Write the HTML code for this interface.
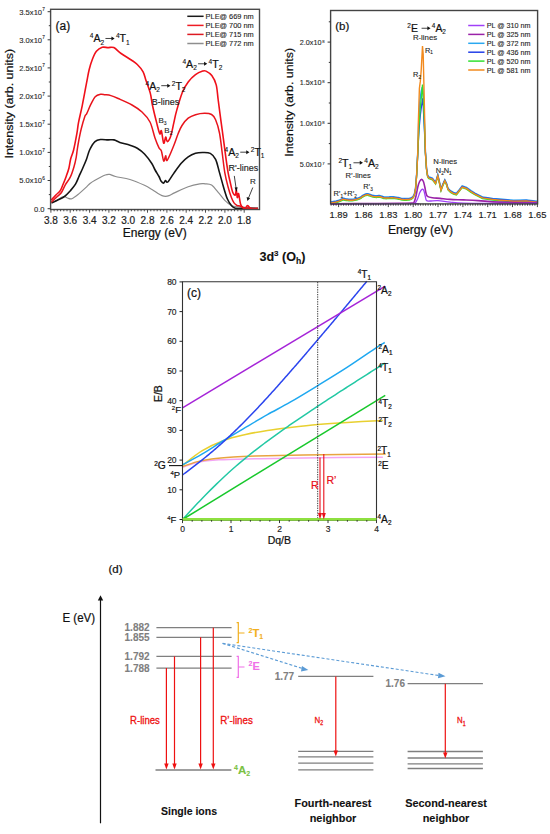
<!DOCTYPE html>
<html><head><meta charset="utf-8"><style>
html,body{margin:0;padding:0;background:#fff;}
svg{display:block;font-family:"Liberation Sans", sans-serif;}
</style></head><body>
<svg width="550" height="834" viewBox="0 0 550 834">
<rect width="550" height="834" fill="#fff"/>
<g id="pa"><path d="M51.50,202.40 C52.47,202.03 55.62,201.05 57.30,200.20 C58.98,199.35 60.40,197.92 61.60,197.30 C62.80,196.68 63.52,196.38 64.50,196.50 C65.48,196.62 66.28,197.63 67.50,198.00 C68.72,198.37 69.87,199.43 71.80,198.70 C73.73,197.97 76.67,195.53 79.10,193.60 C81.53,191.67 84.58,188.78 86.40,187.10 C88.22,185.42 88.57,184.65 90.00,183.50 C91.43,182.35 92.45,181.62 95.00,180.20 C97.55,178.78 102.87,175.97 105.30,175.00 C107.73,174.03 107.90,174.15 109.60,174.40 C111.30,174.65 112.10,175.65 115.50,176.50 C118.90,177.35 125.17,178.03 130.00,179.50 C134.83,180.97 140.83,183.63 144.50,185.30 C148.17,186.97 149.75,188.13 152.00,189.50 C154.25,190.87 156.33,192.48 158.00,193.50 C159.67,194.52 160.75,195.13 162.00,195.60 C163.25,196.07 164.33,196.30 165.50,196.30 C166.67,196.30 167.42,196.22 169.00,195.60 C170.58,194.98 171.80,194.08 175.00,192.60 C178.20,191.12 184.07,188.17 188.20,186.70 C192.33,185.23 197.00,184.28 199.80,183.80 C202.60,183.32 203.03,183.58 205.00,183.80 C206.97,184.02 209.40,183.68 211.60,185.10 C213.80,186.52 216.00,189.77 218.20,192.30 C220.40,194.83 222.60,198.10 224.80,200.30 C227.00,202.50 229.20,204.40 231.40,205.50 C233.60,206.60 235.23,206.57 238.00,206.90 C240.77,207.23 244.67,207.32 248.00,207.50 C251.33,207.68 256.33,207.92 258.00,208.00" fill="none" stroke="#8c8c8c" stroke-width="1.2"/><path d="M51.50,203.10 C52.47,202.62 55.13,201.30 57.30,200.20 C59.47,199.10 62.32,198.08 64.50,196.50 C66.68,194.92 68.57,192.75 70.40,190.70 C72.23,188.65 74.05,186.62 75.50,184.20 C76.95,181.78 77.90,178.87 79.10,176.20 C80.30,173.53 81.48,170.98 82.70,168.20 C83.92,165.42 85.25,162.53 86.40,159.50 C87.55,156.47 88.17,152.98 89.60,150.00 C91.03,147.02 93.10,143.35 95.00,141.60 C96.90,139.85 98.83,139.78 101.00,139.50 C103.17,139.22 105.83,139.83 108.00,139.90 C110.17,139.97 112.03,139.48 114.00,139.90 C115.97,140.32 117.13,141.50 119.80,142.40 C122.47,143.30 127.08,144.33 130.00,145.30 C132.92,146.27 134.88,146.75 137.30,148.20 C139.72,149.65 142.08,151.45 144.50,154.00 C146.92,156.55 150.03,160.83 151.80,163.50 C153.57,166.17 153.90,167.83 155.10,170.00 C156.30,172.17 158.02,174.67 159.00,176.50 C159.98,178.33 160.25,179.90 161.00,181.00 C161.75,182.10 162.75,183.18 163.50,183.10 C164.25,183.02 164.78,180.68 165.50,180.50 C166.22,180.32 166.45,183.15 167.80,182.00 C169.15,180.85 171.40,176.68 173.60,173.60 C175.80,170.52 178.57,166.28 181.00,163.50 C183.43,160.72 185.78,158.60 188.20,156.90 C190.62,155.20 193.08,154.03 195.50,153.30 C197.92,152.57 200.23,152.48 202.70,152.50 C205.17,152.52 208.15,152.25 210.30,153.40 C212.45,154.55 214.07,156.20 215.60,159.40 C217.13,162.60 218.18,168.00 219.50,172.60 C220.82,177.20 222.18,182.60 223.50,187.00 C224.82,191.40 226.08,195.92 227.40,199.00 C228.72,202.08 230.08,203.97 231.40,205.50 C232.72,207.03 233.03,207.68 235.30,208.20 C237.57,208.72 241.22,208.53 245.00,208.60 C248.78,208.67 255.83,208.60 258.00,208.60" fill="none" stroke="#151515" stroke-width="1.6"/><path d="M51.10,202.40 C52.13,201.42 55.55,198.20 57.30,196.50 C59.05,194.80 60.27,194.13 61.60,192.20 C62.93,190.27 63.83,187.45 65.30,184.90 C66.77,182.35 68.95,179.93 70.40,176.90 C71.85,173.87 73.03,169.97 74.00,166.70 C74.97,163.43 75.67,160.08 76.20,157.30 C76.73,154.52 76.80,152.63 77.20,150.00 C77.60,147.37 77.93,145.00 78.60,141.50 C79.27,138.00 80.13,133.23 81.20,129.00 C82.27,124.77 84.10,118.62 85.00,116.10 C85.90,113.58 85.62,115.88 86.60,113.90 C87.58,111.92 89.47,107.07 90.90,104.20 C92.33,101.33 93.58,98.35 95.20,96.70 C96.82,95.05 98.97,94.63 100.60,94.30 C102.23,93.97 103.28,94.48 105.00,94.70 C106.72,94.92 108.70,94.97 110.90,95.60 C113.10,96.23 114.68,96.93 118.20,98.50 C121.72,100.07 128.03,102.75 132.00,105.00 C135.97,107.25 139.00,109.17 142.00,112.00 C145.00,114.83 147.83,117.67 150.00,122.00 C152.17,126.33 153.50,133.68 155.00,138.00 C156.50,142.32 157.93,145.73 159.00,147.90 C160.07,150.07 160.62,148.80 161.40,151.00 C162.18,153.20 162.98,160.32 163.70,161.10 C164.42,161.88 165.12,155.83 165.70,155.70 C166.28,155.57 165.85,162.00 167.20,160.30 C168.55,158.60 172.00,149.88 173.80,145.50 C175.60,141.12 176.63,137.33 178.00,134.00 C179.37,130.67 180.30,128.13 182.00,125.50 C183.70,122.87 185.95,120.00 188.20,118.20 C190.45,116.40 192.78,115.52 195.50,114.70 C198.22,113.88 201.82,113.33 204.50,113.30 C207.18,113.27 209.75,113.42 211.60,114.50 C213.45,115.58 214.28,116.72 215.60,119.80 C216.92,122.88 218.40,127.50 219.50,133.00 C220.60,138.50 221.32,146.20 222.20,152.80 C223.08,159.40 223.82,166.90 224.80,172.60 C225.78,178.30 227.00,182.83 228.10,187.00 C229.20,191.17 230.42,194.95 231.40,197.60 C232.38,200.25 233.07,201.58 234.00,202.90 C234.93,204.22 236.00,204.98 237.00,205.50 C238.00,206.02 238.67,205.58 240.00,206.00 C241.33,206.42 242.00,207.58 245.00,208.00 C248.00,208.42 255.83,208.42 258.00,208.50" fill="none" stroke="#e8141c" stroke-width="1.5"/><path d="M51.10,200.20 C51.88,199.35 54.28,196.68 55.80,195.10 C57.32,193.52 58.98,192.52 60.20,190.70 C61.42,188.88 62.13,186.50 63.10,184.20 C64.07,181.90 65.03,179.57 66.00,176.90 C66.97,174.23 68.12,171.23 68.90,168.20 C69.68,165.17 69.92,161.73 70.70,158.70 C71.48,155.67 72.57,154.22 73.60,150.00 C74.63,145.78 76.08,137.97 76.90,133.40 C77.72,128.83 77.60,127.28 78.50,122.60 C79.40,117.92 80.95,111.95 82.30,105.30 C83.65,98.65 85.45,88.67 86.60,82.70 C87.75,76.73 88.22,73.45 89.20,69.50 C90.18,65.55 91.30,62.03 92.50,59.00 C93.70,55.97 94.78,53.25 96.40,51.30 C98.02,49.35 100.27,47.92 102.20,47.30 C104.13,46.68 106.07,47.55 108.00,47.60 C109.93,47.65 111.62,46.62 113.80,47.60 C115.98,48.58 118.18,51.43 121.10,53.50 C124.02,55.57 128.60,58.17 131.30,60.00 C134.00,61.83 135.33,62.53 137.30,64.50 C139.27,66.47 141.65,69.13 143.10,71.80 C144.55,74.47 144.78,76.87 146.00,80.50 C147.22,84.13 149.33,89.52 150.40,93.60 C151.47,97.68 151.35,100.12 152.40,105.00 C153.45,109.88 155.47,118.10 156.70,122.90 C157.93,127.70 159.02,132.50 159.80,133.80 C160.58,135.10 160.75,129.13 161.40,130.70 C162.05,132.27 162.98,142.15 163.70,143.20 C164.42,144.25 165.12,137.27 165.70,137.00 C166.28,136.73 166.37,141.73 167.20,141.60 C168.03,141.47 169.60,139.32 170.70,136.20 C171.80,133.08 172.83,127.08 173.80,122.90 C174.77,118.72 175.07,116.22 176.50,111.10 C177.93,105.98 180.45,97.05 182.40,92.20 C184.35,87.35 186.02,84.92 188.20,82.00 C190.38,79.08 193.08,76.52 195.50,74.70 C197.92,72.88 200.95,71.70 202.70,71.10 C204.45,70.50 204.48,70.37 206.00,71.10 C207.52,71.83 210.10,73.20 211.80,75.50 C213.50,77.80 215.13,80.82 216.20,84.90 C217.27,88.98 217.43,94.18 218.20,100.00 C218.97,105.82 219.92,113.20 220.80,119.80 C221.68,126.40 222.62,133.00 223.50,139.60 C224.38,146.20 225.33,153.90 226.10,159.40 C226.87,164.90 227.43,168.87 228.10,172.60 C228.77,176.33 229.33,178.52 230.10,181.80 C230.87,185.08 231.83,190.10 232.70,192.30 C233.57,194.50 234.70,195.43 235.30,195.00 C235.90,194.57 235.97,189.27 236.30,189.70 C236.63,190.13 236.92,196.93 237.30,197.60 C237.68,198.27 238.05,192.60 238.60,193.70 C239.15,194.80 239.82,201.78 240.60,204.20 C241.38,206.62 242.52,207.48 243.30,208.20 C244.08,208.92 244.60,208.93 245.30,208.50 C246.00,208.07 246.53,205.60 247.50,205.60 C248.47,205.60 249.35,208.00 251.10,208.50 C252.85,209.00 256.85,208.58 258.00,208.60" fill="none" stroke="#f0101a" stroke-width="1.6"/><rect x="50.6" y="9.3" width="208.9" height="200.2" fill="none" stroke="#4a4a4a" stroke-width="1.4"/><line x1="47.6" y1="208.7" x2="50.6" y2="208.7" stroke="#3c3c3c" stroke-width="1"/><line x1="48.8" y1="194.6" x2="50.6" y2="194.6" stroke="#3c3c3c" stroke-width="1"/><line x1="47.6" y1="180.5" x2="50.6" y2="180.5" stroke="#3c3c3c" stroke-width="1"/><line x1="48.8" y1="166.5" x2="50.6" y2="166.5" stroke="#3c3c3c" stroke-width="1"/><line x1="47.6" y1="152.4" x2="50.6" y2="152.4" stroke="#3c3c3c" stroke-width="1"/><line x1="48.8" y1="138.3" x2="50.6" y2="138.3" stroke="#3c3c3c" stroke-width="1"/><line x1="47.6" y1="124.2" x2="50.6" y2="124.2" stroke="#3c3c3c" stroke-width="1"/><line x1="48.8" y1="110.2" x2="50.6" y2="110.2" stroke="#3c3c3c" stroke-width="1"/><line x1="47.6" y1="96.1" x2="50.6" y2="96.1" stroke="#3c3c3c" stroke-width="1"/><line x1="48.8" y1="82.0" x2="50.6" y2="82.0" stroke="#3c3c3c" stroke-width="1"/><line x1="47.6" y1="67.9" x2="50.6" y2="67.9" stroke="#3c3c3c" stroke-width="1"/><line x1="48.8" y1="53.9" x2="50.6" y2="53.9" stroke="#3c3c3c" stroke-width="1"/><line x1="47.6" y1="39.8" x2="50.6" y2="39.8" stroke="#3c3c3c" stroke-width="1"/><line x1="48.8" y1="25.7" x2="50.6" y2="25.7" stroke="#3c3c3c" stroke-width="1"/><line x1="47.6" y1="11.7" x2="50.6" y2="11.7" stroke="#3c3c3c" stroke-width="1"/><text x="44.6" y="211.6" font-size="7.6" text-anchor="end" fill="#2a2a2a" stroke="#2a2a2a" stroke-width="0.12">0.0</text><text x="42.1" y="183.4" font-size="7.6" text-anchor="end" fill="#2a2a2a" stroke="#2a2a2a" stroke-width="0.12">5.0x10</text><text x="42.3" y="179.9" font-size="4.8" fill="#2a2a2a" stroke="#2a2a2a" stroke-width="0.12">6</text><text x="42.1" y="155.3" font-size="7.6" text-anchor="end" fill="#2a2a2a" stroke="#2a2a2a" stroke-width="0.12">1.0x10</text><text x="42.3" y="151.8" font-size="4.8" fill="#2a2a2a" stroke="#2a2a2a" stroke-width="0.12">7</text><text x="42.1" y="127.2" font-size="7.6" text-anchor="end" fill="#2a2a2a" stroke="#2a2a2a" stroke-width="0.12">1.5x10</text><text x="42.3" y="123.7" font-size="4.8" fill="#2a2a2a" stroke="#2a2a2a" stroke-width="0.12">7</text><text x="42.1" y="99.0" font-size="7.6" text-anchor="end" fill="#2a2a2a" stroke="#2a2a2a" stroke-width="0.12">2.0x10</text><text x="42.3" y="95.5" font-size="4.8" fill="#2a2a2a" stroke="#2a2a2a" stroke-width="0.12">7</text><text x="42.1" y="70.8" font-size="7.6" text-anchor="end" fill="#2a2a2a" stroke="#2a2a2a" stroke-width="0.12">2.5x10</text><text x="42.3" y="67.3" font-size="4.8" fill="#2a2a2a" stroke="#2a2a2a" stroke-width="0.12">7</text><text x="42.1" y="42.7" font-size="7.6" text-anchor="end" fill="#2a2a2a" stroke="#2a2a2a" stroke-width="0.12">3.0x10</text><text x="42.3" y="39.2" font-size="4.8" fill="#2a2a2a" stroke="#2a2a2a" stroke-width="0.12">7</text><text x="42.1" y="14.6" font-size="7.6" text-anchor="end" fill="#2a2a2a" stroke="#2a2a2a" stroke-width="0.12">3.5x10</text><text x="42.3" y="11.1" font-size="4.8" fill="#2a2a2a" stroke="#2a2a2a" stroke-width="0.12">7</text><line x1="50.9" y1="209.5" x2="50.9" y2="212.7" stroke="#3c3c3c" stroke-width="0.9"/><line x1="54.1" y1="209.5" x2="54.1" y2="211.3" stroke="#3c3c3c" stroke-width="0.9"/><line x1="57.3" y1="209.5" x2="57.3" y2="211.3" stroke="#3c3c3c" stroke-width="0.9"/><line x1="60.6" y1="209.5" x2="60.6" y2="211.3" stroke="#3c3c3c" stroke-width="0.9"/><line x1="63.8" y1="209.5" x2="63.8" y2="211.3" stroke="#3c3c3c" stroke-width="0.9"/><line x1="67.0" y1="209.5" x2="67.0" y2="211.3" stroke="#3c3c3c" stroke-width="0.9"/><line x1="70.2" y1="209.5" x2="70.2" y2="212.7" stroke="#3c3c3c" stroke-width="0.9"/><line x1="73.5" y1="209.5" x2="73.5" y2="211.3" stroke="#3c3c3c" stroke-width="0.9"/><line x1="76.7" y1="209.5" x2="76.7" y2="211.3" stroke="#3c3c3c" stroke-width="0.9"/><line x1="79.9" y1="209.5" x2="79.9" y2="211.3" stroke="#3c3c3c" stroke-width="0.9"/><line x1="83.1" y1="209.5" x2="83.1" y2="211.3" stroke="#3c3c3c" stroke-width="0.9"/><line x1="86.3" y1="209.5" x2="86.3" y2="211.3" stroke="#3c3c3c" stroke-width="0.9"/><line x1="89.6" y1="209.5" x2="89.6" y2="212.7" stroke="#3c3c3c" stroke-width="0.9"/><line x1="92.8" y1="209.5" x2="92.8" y2="211.3" stroke="#3c3c3c" stroke-width="0.9"/><line x1="96.0" y1="209.5" x2="96.0" y2="211.3" stroke="#3c3c3c" stroke-width="0.9"/><line x1="99.2" y1="209.5" x2="99.2" y2="211.3" stroke="#3c3c3c" stroke-width="0.9"/><line x1="102.4" y1="209.5" x2="102.4" y2="211.3" stroke="#3c3c3c" stroke-width="0.9"/><line x1="105.7" y1="209.5" x2="105.7" y2="211.3" stroke="#3c3c3c" stroke-width="0.9"/><line x1="108.9" y1="209.5" x2="108.9" y2="212.7" stroke="#3c3c3c" stroke-width="0.9"/><line x1="112.1" y1="209.5" x2="112.1" y2="211.3" stroke="#3c3c3c" stroke-width="0.9"/><line x1="115.3" y1="209.5" x2="115.3" y2="211.3" stroke="#3c3c3c" stroke-width="0.9"/><line x1="118.6" y1="209.5" x2="118.6" y2="211.3" stroke="#3c3c3c" stroke-width="0.9"/><line x1="121.8" y1="209.5" x2="121.8" y2="211.3" stroke="#3c3c3c" stroke-width="0.9"/><line x1="125.0" y1="209.5" x2="125.0" y2="211.3" stroke="#3c3c3c" stroke-width="0.9"/><line x1="128.2" y1="209.5" x2="128.2" y2="212.7" stroke="#3c3c3c" stroke-width="0.9"/><line x1="131.4" y1="209.5" x2="131.4" y2="211.3" stroke="#3c3c3c" stroke-width="0.9"/><line x1="134.7" y1="209.5" x2="134.7" y2="211.3" stroke="#3c3c3c" stroke-width="0.9"/><line x1="137.9" y1="209.5" x2="137.9" y2="211.3" stroke="#3c3c3c" stroke-width="0.9"/><line x1="141.1" y1="209.5" x2="141.1" y2="211.3" stroke="#3c3c3c" stroke-width="0.9"/><line x1="144.3" y1="209.5" x2="144.3" y2="211.3" stroke="#3c3c3c" stroke-width="0.9"/><line x1="147.5" y1="209.5" x2="147.5" y2="212.7" stroke="#3c3c3c" stroke-width="0.9"/><line x1="150.8" y1="209.5" x2="150.8" y2="211.3" stroke="#3c3c3c" stroke-width="0.9"/><line x1="154.0" y1="209.5" x2="154.0" y2="211.3" stroke="#3c3c3c" stroke-width="0.9"/><line x1="157.2" y1="209.5" x2="157.2" y2="211.3" stroke="#3c3c3c" stroke-width="0.9"/><line x1="160.4" y1="209.5" x2="160.4" y2="211.3" stroke="#3c3c3c" stroke-width="0.9"/><line x1="163.7" y1="209.5" x2="163.7" y2="211.3" stroke="#3c3c3c" stroke-width="0.9"/><line x1="166.9" y1="209.5" x2="166.9" y2="212.7" stroke="#3c3c3c" stroke-width="0.9"/><line x1="170.1" y1="209.5" x2="170.1" y2="211.3" stroke="#3c3c3c" stroke-width="0.9"/><line x1="173.3" y1="209.5" x2="173.3" y2="211.3" stroke="#3c3c3c" stroke-width="0.9"/><line x1="176.5" y1="209.5" x2="176.5" y2="211.3" stroke="#3c3c3c" stroke-width="0.9"/><line x1="179.8" y1="209.5" x2="179.8" y2="211.3" stroke="#3c3c3c" stroke-width="0.9"/><line x1="183.0" y1="209.5" x2="183.0" y2="211.3" stroke="#3c3c3c" stroke-width="0.9"/><line x1="186.2" y1="209.5" x2="186.2" y2="212.7" stroke="#3c3c3c" stroke-width="0.9"/><line x1="189.4" y1="209.5" x2="189.4" y2="211.3" stroke="#3c3c3c" stroke-width="0.9"/><line x1="192.7" y1="209.5" x2="192.7" y2="211.3" stroke="#3c3c3c" stroke-width="0.9"/><line x1="195.9" y1="209.5" x2="195.9" y2="211.3" stroke="#3c3c3c" stroke-width="0.9"/><line x1="199.1" y1="209.5" x2="199.1" y2="211.3" stroke="#3c3c3c" stroke-width="0.9"/><line x1="202.3" y1="209.5" x2="202.3" y2="211.3" stroke="#3c3c3c" stroke-width="0.9"/><line x1="205.5" y1="209.5" x2="205.5" y2="212.7" stroke="#3c3c3c" stroke-width="0.9"/><line x1="208.8" y1="209.5" x2="208.8" y2="211.3" stroke="#3c3c3c" stroke-width="0.9"/><line x1="212.0" y1="209.5" x2="212.0" y2="211.3" stroke="#3c3c3c" stroke-width="0.9"/><line x1="215.2" y1="209.5" x2="215.2" y2="211.3" stroke="#3c3c3c" stroke-width="0.9"/><line x1="218.4" y1="209.5" x2="218.4" y2="211.3" stroke="#3c3c3c" stroke-width="0.9"/><line x1="221.6" y1="209.5" x2="221.6" y2="211.3" stroke="#3c3c3c" stroke-width="0.9"/><line x1="224.9" y1="209.5" x2="224.9" y2="212.7" stroke="#3c3c3c" stroke-width="0.9"/><line x1="228.1" y1="209.5" x2="228.1" y2="211.3" stroke="#3c3c3c" stroke-width="0.9"/><line x1="231.3" y1="209.5" x2="231.3" y2="211.3" stroke="#3c3c3c" stroke-width="0.9"/><line x1="234.5" y1="209.5" x2="234.5" y2="211.3" stroke="#3c3c3c" stroke-width="0.9"/><line x1="237.8" y1="209.5" x2="237.8" y2="211.3" stroke="#3c3c3c" stroke-width="0.9"/><line x1="241.0" y1="209.5" x2="241.0" y2="211.3" stroke="#3c3c3c" stroke-width="0.9"/><line x1="244.2" y1="209.5" x2="244.2" y2="212.7" stroke="#3c3c3c" stroke-width="0.9"/><text x="50.9" y="224.2" font-size="10" text-anchor="middle" fill="#1e1e1e" stroke="#1e1e1e" stroke-width="0.22">3.8</text><text x="70.2" y="224.2" font-size="10" text-anchor="middle" fill="#1e1e1e" stroke="#1e1e1e" stroke-width="0.22">3.6</text><text x="89.6" y="224.2" font-size="10" text-anchor="middle" fill="#1e1e1e" stroke="#1e1e1e" stroke-width="0.22">3.4</text><text x="108.9" y="224.2" font-size="10" text-anchor="middle" fill="#1e1e1e" stroke="#1e1e1e" stroke-width="0.22">3.2</text><text x="128.2" y="224.2" font-size="10" text-anchor="middle" fill="#1e1e1e" stroke="#1e1e1e" stroke-width="0.22">3.0</text><text x="147.5" y="224.2" font-size="10" text-anchor="middle" fill="#1e1e1e" stroke="#1e1e1e" stroke-width="0.22">2.8</text><text x="166.9" y="224.2" font-size="10" text-anchor="middle" fill="#1e1e1e" stroke="#1e1e1e" stroke-width="0.22">2.6</text><text x="186.2" y="224.2" font-size="10" text-anchor="middle" fill="#1e1e1e" stroke="#1e1e1e" stroke-width="0.22">2.4</text><text x="205.5" y="224.2" font-size="10" text-anchor="middle" fill="#1e1e1e" stroke="#1e1e1e" stroke-width="0.22">2.2</text><text x="224.9" y="224.2" font-size="10" text-anchor="middle" fill="#1e1e1e" stroke="#1e1e1e" stroke-width="0.22">2.0</text><text x="244.2" y="224.2" font-size="10" text-anchor="middle" fill="#1e1e1e" stroke="#1e1e1e" stroke-width="0.22">1.8</text><text x="154.8" y="236.5" font-size="12" text-anchor="middle" fill="#111" stroke="#111" stroke-width="0.22">Energy (eV)</text><text transform="translate(13.0,103.7) rotate(-90) scale(1,0.93)" font-size="12.5" text-anchor="middle" fill="#111" stroke="#111" stroke-width="0.22">Intensity (arb. units)</text><line x1="187.3" y1="16.3" x2="203.6" y2="16.3" stroke="#1a1a1a" stroke-width="1.5"/><text x="205.6" y="18.9" font-size="7.4" fill="#1e1e1e" stroke="#1e1e1e" stroke-width="0.12">PLE@ 669 nm</text><line x1="187.3" y1="25.4" x2="203.6" y2="25.4" stroke="#ee1c24" stroke-width="1.5"/><text x="205.6" y="28.0" font-size="7.4" fill="#1e1e1e" stroke="#1e1e1e" stroke-width="0.12">PLE@ 700 nm</text><line x1="187.3" y1="34.4" x2="203.6" y2="34.4" stroke="#dd1a22" stroke-width="1.5"/><text x="205.6" y="37.0" font-size="7.4" fill="#1e1e1e" stroke="#1e1e1e" stroke-width="0.12">PLE@ 715 nm</text><line x1="187.3" y1="43.5" x2="203.6" y2="43.5" stroke="#8e8e8e" stroke-width="1.5"/><text x="205.6" y="46.1" font-size="7.4" fill="#1e1e1e" stroke="#1e1e1e" stroke-width="0.12">PLE@ 772 nm</text><text x="55.5" y="30" font-size="12" fill="#111" stroke="#111" stroke-width="0.22">(a)</text><text x="89.80" y="38.48" font-size="6.57" fill="#111" stroke="#111" stroke-width="0.12">4</text><text x="93.46" y="42.30" font-size="10.60" fill="#111" stroke="#111" stroke-width="0.22">A</text><text x="100.53" y="44.63" font-size="6.57" fill="#111" stroke="#111" stroke-width="0.12">2</text><path d="M105.45,38.48 H113.15" stroke="#111" stroke-width="0.79"/><path d="M111.45,36.47 L114.65,38.48 L111.45,40.50 Z" fill="#111"/><text x="115.92" y="38.48" font-size="6.57" fill="#111" stroke="#111" stroke-width="0.12">4</text><text x="119.58" y="42.30" font-size="10.60" fill="#111" stroke="#111" stroke-width="0.22">T</text><text x="126.05" y="44.63" font-size="6.57" fill="#111" stroke="#111" stroke-width="0.12">1</text><text x="145.60" y="85.68" font-size="6.57" fill="#111" stroke="#111" stroke-width="0.12">4</text><text x="149.26" y="89.50" font-size="10.60" fill="#111" stroke="#111" stroke-width="0.22">A</text><text x="156.33" y="91.83" font-size="6.57" fill="#111" stroke="#111" stroke-width="0.12">2</text><path d="M161.25,85.68 H168.95" stroke="#111" stroke-width="0.79"/><path d="M167.25,83.67 L170.45,85.68 L167.25,87.70 Z" fill="#111"/><text x="171.72" y="85.68" font-size="6.57" fill="#111" stroke="#111" stroke-width="0.12">2</text><text x="175.38" y="89.50" font-size="10.60" fill="#111" stroke="#111" stroke-width="0.22">T</text><text x="181.85" y="91.83" font-size="6.57" fill="#111" stroke="#111" stroke-width="0.12">2</text><text x="182.40" y="63.78" font-size="6.57" fill="#111" stroke="#111" stroke-width="0.12">4</text><text x="186.06" y="67.60" font-size="10.60" fill="#111" stroke="#111" stroke-width="0.22">A</text><text x="193.13" y="69.93" font-size="6.57" fill="#111" stroke="#111" stroke-width="0.12">2</text><path d="M198.05,63.78 H205.75" stroke="#111" stroke-width="0.79"/><path d="M204.05,61.77 L207.25,63.78 L204.05,65.80 Z" fill="#111"/><text x="208.52" y="63.78" font-size="6.57" fill="#111" stroke="#111" stroke-width="0.12">4</text><text x="212.18" y="67.60" font-size="10.60" fill="#111" stroke="#111" stroke-width="0.22">T</text><text x="218.65" y="69.93" font-size="6.57" fill="#111" stroke="#111" stroke-width="0.12">2</text><text x="224.60" y="152.18" font-size="6.57" fill="#111" stroke="#111" stroke-width="0.12">4</text><text x="228.26" y="156.00" font-size="10.60" fill="#111" stroke="#111" stroke-width="0.22">A</text><text x="235.33" y="158.33" font-size="6.57" fill="#111" stroke="#111" stroke-width="0.12">2</text><path d="M240.25,152.18 H247.95" stroke="#111" stroke-width="0.79"/><path d="M246.25,150.17 L249.45,152.18 L246.25,154.20 Z" fill="#111"/><text x="250.72" y="152.18" font-size="6.57" fill="#111" stroke="#111" stroke-width="0.12">2</text><text x="254.38" y="156.00" font-size="10.60" fill="#111" stroke="#111" stroke-width="0.22">T</text><text x="260.85" y="158.33" font-size="6.57" fill="#111" stroke="#111" stroke-width="0.12">1</text><text x="151.8" y="104.8" font-size="9" fill="#1e1e1e" stroke="#1e1e1e" stroke-width="0.16">B-lines</text><text x="158.5" y="122.5" font-size="8" fill="#1e1e1e" stroke="#1e1e1e" stroke-width="0.12">B<tspan font-size="5" dy="2">3</tspan></text><text x="164.3" y="133.4" font-size="8" fill="#1e1e1e" stroke="#1e1e1e" stroke-width="0.12">B<tspan font-size="5" dy="2">2</tspan></text><text x="228.5" y="171" font-size="9" fill="#1e1e1e" stroke="#1e1e1e" stroke-width="0.16">R'-lines</text><text x="250" y="183.8" font-size="8" fill="#1e1e1e" stroke="#1e1e1e" stroke-width="0.12">R</text><line x1="234.3" y1="175.9" x2="236.2" y2="189" stroke="#111" stroke-width="0.8"/><path d="M234.6,187.5 L236.6,192 L237.6,187.2 Z" fill="#111"/><line x1="252.8" y1="187.5" x2="248.3" y2="198.5" stroke="#111" stroke-width="0.8"/><path d="M246.6,197 L247.4,201 L250.1,198.2 Z" fill="#111"/></g>
<g id="pb"><path d="M331.00,201.90 L331.54,201.81 L332.30,201.68 L333.19,201.53 L334.14,201.36 L335.07,201.18 L335.90,201.00 L336.64,200.81 L337.36,200.60 L338.06,200.38 L338.73,200.16 L339.38,199.93 L340.00,199.70 L340.59,199.45 L341.15,199.17 L341.69,198.89 L342.20,198.63 L342.71,198.42 L343.20,198.30 L343.64,198.27 L344.00,198.33 L344.35,198.44 L344.74,198.57 L345.24,198.70 L345.90,198.80 L346.74,198.90 L347.73,199.02 L348.82,199.14 L349.97,199.23 L351.14,199.26 L352.30,199.20 L353.50,199.03 L354.78,198.78 L356.08,198.46 L357.34,198.11 L358.50,197.75 L359.50,197.40 L360.29,197.05 L360.93,196.67 L361.46,196.28 L361.95,195.90 L362.44,195.53 L363.00,195.20 L363.63,194.89 L364.29,194.57 L364.95,194.28 L365.60,194.03 L366.23,193.83 L366.80,193.70 L367.31,193.66 L367.78,193.70 L368.21,193.79 L368.63,193.92 L369.06,194.06 L369.50,194.20 L369.95,194.34 L370.39,194.51 L370.84,194.69 L371.30,194.88 L371.78,195.05 L372.30,195.20 L372.87,195.33 L373.47,195.46 L374.11,195.57 L374.75,195.67 L375.38,195.75 L376.00,195.80 L376.57,195.79 L377.11,195.73 L377.64,195.65 L378.19,195.58 L378.80,195.55 L379.50,195.60 L380.28,195.76 L381.12,196.01 L382.01,196.30 L382.96,196.59 L383.96,196.84 L385.00,197.00 L386.13,197.05 L387.37,197.02 L388.66,196.95 L389.94,196.87 L391.17,196.81 L392.30,196.80 L393.31,196.85 L394.24,196.92 L395.13,197.02 L395.98,197.13 L396.83,197.26 L397.70,197.40 L398.59,197.57 L399.46,197.77 L400.34,197.99 L401.21,198.20 L402.10,198.38 L403.00,198.50 L403.95,198.56 L404.94,198.59 L405.95,198.57 L406.92,198.54 L407.82,198.48 L408.60,198.40 L409.25,198.30 L409.81,198.18 L410.29,198.04 L410.72,197.87 L411.12,197.69 L411.50,197.50 L411.86,197.31 L412.17,197.11 L412.44,196.90 L412.70,196.66 L412.95,196.36 L413.20,196.00 L413.46,195.58 L413.70,195.11 L413.94,194.60 L414.17,194.03 L414.39,193.40 L414.60,192.70 L414.79,192.01 L414.96,191.34 L415.12,190.62 L415.27,189.74 L415.43,188.63 L415.60,187.20 L415.79,185.20 L416.00,182.64 L416.21,179.86 L416.41,177.14 L416.58,174.82 L416.70,173.20 L417.80,151.60 L418.80,119.20 L419.90,100.60 L421.30,91.20 L422.30,87.20 L423.20,94.20 L424.30,119.20 L425.40,151.60 L426.50,167.80 L427.50,174.70 L428.50,176.80 L432.40,178.10 L435.60,182.40 L437.80,174.80 L439.30,181.20 L441.00,189.20 L442.80,184.20 L444.80,179.70 L446.50,183.20 L448.00,188.30 L450.50,190.70 L453.50,192.50 L456.40,193.30 L459.30,189.70 L462.20,186.00 L466.50,187.50 L471.00,190.70 L475.30,193.30 L482.50,196.90 L492.70,198.40 L500.00,199.10 L513.60,200.20 L526.40,199.90 L537.30,201.20" fill="none" stroke="#2a9ef0" stroke-width="1.5"/><path d="M331.00,202.50 L331.54,202.41 L332.30,202.28 L333.19,202.13 L334.14,201.96 L335.07,201.78 L335.90,201.60 L336.64,201.41 L337.36,201.20 L338.06,200.98 L338.73,200.76 L339.38,200.53 L340.00,200.30 L340.59,200.05 L341.15,199.77 L341.69,199.49 L342.20,199.23 L342.71,199.02 L343.20,198.90 L343.64,198.87 L344.00,198.93 L344.35,199.04 L344.74,199.17 L345.24,199.30 L345.90,199.40 L346.74,199.50 L347.73,199.62 L348.82,199.74 L349.97,199.83 L351.14,199.86 L352.30,199.80 L353.50,199.63 L354.78,199.38 L356.08,199.06 L357.34,198.71 L358.50,198.35 L359.50,198.00 L360.29,197.65 L360.93,197.27 L361.46,196.88 L361.95,196.50 L362.44,196.13 L363.00,195.80 L363.63,195.49 L364.29,195.17 L364.95,194.88 L365.60,194.63 L366.23,194.43 L366.80,194.30 L367.31,194.26 L367.78,194.30 L368.21,194.39 L368.63,194.52 L369.06,194.66 L369.50,194.80 L369.95,194.94 L370.39,195.11 L370.84,195.29 L371.30,195.48 L371.78,195.65 L372.30,195.80 L372.87,195.93 L373.47,196.06 L374.11,196.18 L374.75,196.27 L375.38,196.35 L376.00,196.40 L376.57,196.39 L377.11,196.33 L377.64,196.25 L378.19,196.18 L378.80,196.15 L379.50,196.20 L380.28,196.36 L381.12,196.61 L382.01,196.90 L382.96,197.19 L383.96,197.44 L385.00,197.60 L386.13,197.65 L387.37,197.62 L388.66,197.55 L389.94,197.47 L391.17,197.41 L392.30,197.40 L393.31,197.45 L394.24,197.52 L395.13,197.62 L395.98,197.73 L396.83,197.86 L397.70,198.00 L398.59,198.17 L399.46,198.37 L400.34,198.59 L401.21,198.80 L402.10,198.98 L403.00,199.10 L403.95,199.16 L404.94,199.19 L405.95,199.18 L406.92,199.14 L407.82,199.08 L408.60,199.00 L409.25,198.90 L409.81,198.78 L410.29,198.64 L410.72,198.47 L411.12,198.29 L411.50,198.10 L411.86,197.91 L412.17,197.71 L412.44,197.50 L412.70,197.26 L412.95,196.96 L413.20,196.60 L413.46,196.18 L413.70,195.71 L413.94,195.20 L414.17,194.63 L414.39,194.00 L414.60,193.30 L414.79,192.61 L414.96,191.94 L415.12,191.22 L415.27,190.34 L415.43,189.23 L415.60,187.80 L415.79,185.80 L416.00,183.24 L416.21,180.46 L416.41,177.74 L416.58,175.42 L416.70,173.80 L417.80,152.20 L419.00,129.80 L420.30,115.50 L421.50,105.80 L422.70,98.30 L423.30,107.80 L424.20,124.80 L425.40,152.20 L426.50,168.40 L427.50,175.30 L428.50,177.40 L432.40,178.70 L435.60,183.00 L437.80,175.40 L439.30,181.80 L441.00,189.80 L442.80,184.80 L444.80,180.30 L446.50,183.80 L448.00,188.90 L450.50,191.30 L453.50,193.10 L456.40,193.90 L459.30,190.30 L462.20,186.60 L466.50,188.10 L471.00,191.30 L475.30,193.90 L482.50,197.50 L492.70,199.00 L500.00,199.70 L513.60,200.80 L526.40,200.50 L537.30,201.80" fill="none" stroke="#2340e8" stroke-width="1.3"/><path d="M331.00,203.60 L331.54,203.51 L332.30,203.38 L333.19,203.23 L334.14,203.06 L335.07,202.88 L335.90,202.70 L336.64,202.51 L337.36,202.30 L338.06,202.08 L338.73,201.86 L339.38,201.63 L340.00,201.40 L340.59,201.15 L341.15,200.87 L341.69,200.59 L342.20,200.33 L342.71,200.12 L343.20,200.00 L343.64,199.97 L344.00,200.03 L344.35,200.14 L344.74,200.27 L345.24,200.40 L345.90,200.50 L346.74,200.60 L347.73,200.72 L348.82,200.84 L349.97,200.93 L351.14,200.96 L352.30,200.90 L353.50,200.73 L354.78,200.48 L356.08,200.16 L357.34,199.81 L358.50,199.45 L359.50,199.10 L360.29,198.75 L360.93,198.37 L361.46,197.98 L361.95,197.60 L362.44,197.23 L363.00,196.90 L363.63,196.59 L364.29,196.27 L364.95,195.98 L365.60,195.73 L366.23,195.53 L366.80,195.40 L367.31,195.36 L367.78,195.40 L368.21,195.49 L368.63,195.62 L369.06,195.76 L369.50,195.90 L369.95,196.04 L370.39,196.21 L370.84,196.39 L371.30,196.58 L371.78,196.75 L372.30,196.90 L372.87,197.03 L373.47,197.16 L374.11,197.28 L374.75,197.37 L375.38,197.45 L376.00,197.50 L376.57,197.49 L377.11,197.43 L377.64,197.35 L378.19,197.28 L378.80,197.25 L379.50,197.30 L380.28,197.46 L381.12,197.71 L382.01,198.00 L382.96,198.29 L383.96,198.54 L385.00,198.70 L386.13,198.75 L387.37,198.72 L388.66,198.65 L389.94,198.57 L391.17,198.51 L392.30,198.50 L393.31,198.55 L394.24,198.62 L395.13,198.72 L395.98,198.83 L396.83,198.96 L397.70,199.10 L398.59,199.27 L399.46,199.47 L400.34,199.69 L401.21,199.90 L402.10,200.08 L403.00,200.20 L403.95,200.26 L404.94,200.29 L405.95,200.28 L406.92,200.24 L407.82,200.18 L408.60,200.10 L409.25,200.00 L409.81,199.88 L410.29,199.74 L410.72,199.57 L411.12,199.39 L411.50,199.20 L411.86,199.01 L412.17,198.81 L412.44,198.60 L412.70,198.36 L412.95,198.06 L413.20,197.70 L413.46,197.28 L413.70,196.81 L413.94,196.30 L414.17,195.73 L414.39,195.10 L414.60,194.40 L414.79,193.71 L414.96,193.04 L415.12,192.32 L415.27,191.44 L415.43,190.33 L415.60,188.90 L415.79,186.90 L416.00,184.34 L416.21,181.56 L416.41,178.84 L416.58,176.52 L416.70,174.90 L417.80,153.30 L419.00,125.90 L420.30,108.00 L421.50,95.90 L422.50,84.50 L423.20,95.90 L424.30,120.90 L425.40,153.30 L426.50,169.50 L427.50,176.40 L428.50,178.50 L432.40,179.80 L435.60,184.10 L437.80,176.50 L439.30,182.90 L441.00,190.90 L442.80,185.90 L444.80,181.40 L446.50,184.90 L448.00,190.00 L450.50,192.40 L453.50,194.20 L456.40,195.00 L459.30,191.40 L462.20,187.70 L466.50,189.20 L471.00,192.40 L475.30,195.00 L482.50,198.60 L492.70,200.10 L500.00,200.80 L513.60,201.90 L526.40,201.60 L537.30,202.90" fill="none" stroke="#30e030" stroke-width="1.3"/><path d="M331.00,202.90 L331.54,202.81 L332.30,202.68 L333.19,202.53 L334.14,202.36 L335.07,202.18 L335.90,202.00 L336.64,201.81 L337.36,201.60 L338.06,201.38 L338.73,201.16 L339.38,200.93 L340.00,200.70 L340.59,200.45 L341.15,200.17 L341.69,199.89 L342.20,199.63 L342.71,199.42 L343.20,199.30 L343.64,199.27 L344.00,199.33 L344.35,199.44 L344.74,199.57 L345.24,199.70 L345.90,199.80 L346.74,199.90 L347.73,200.02 L348.82,200.14 L349.97,200.23 L351.14,200.26 L352.30,200.20 L353.50,200.03 L354.78,199.78 L356.08,199.46 L357.34,199.11 L358.50,198.75 L359.50,198.40 L360.29,198.05 L360.93,197.67 L361.46,197.28 L361.95,196.90 L362.44,196.53 L363.00,196.20 L363.63,195.89 L364.29,195.57 L364.95,195.28 L365.60,195.03 L366.23,194.83 L366.80,194.70 L367.31,194.66 L367.78,194.70 L368.21,194.79 L368.63,194.92 L369.06,195.06 L369.50,195.20 L369.95,195.34 L370.39,195.51 L370.84,195.69 L371.30,195.88 L371.78,196.05 L372.30,196.20 L372.87,196.33 L373.47,196.46 L374.11,196.57 L374.75,196.67 L375.38,196.75 L376.00,196.80 L376.57,196.79 L377.11,196.73 L377.64,196.65 L378.19,196.58 L378.80,196.55 L379.50,196.60 L380.28,196.76 L381.12,197.01 L382.01,197.30 L382.96,197.59 L383.96,197.84 L385.00,198.00 L386.13,198.05 L387.37,198.02 L388.66,197.95 L389.94,197.87 L391.17,197.81 L392.30,197.80 L393.31,197.85 L394.24,197.92 L395.13,198.02 L395.98,198.13 L396.83,198.26 L397.70,198.40 L398.59,198.57 L399.46,198.77 L400.34,198.99 L401.21,199.20 L402.10,199.38 L403.00,199.50 L403.95,199.56 L404.94,199.59 L405.95,199.57 L406.92,199.54 L407.82,199.48 L408.60,199.40 L409.25,199.30 L409.81,199.18 L410.29,199.04 L410.72,198.87 L411.12,198.69 L411.50,198.50 L411.86,198.31 L412.17,198.11 L412.44,197.90 L412.70,197.66 L412.95,197.36 L413.20,197.00 L413.46,196.58 L413.70,196.11 L413.94,195.60 L414.17,195.03 L414.39,194.40 L414.60,193.70 L414.79,193.01 L414.96,192.34 L415.12,191.62 L415.27,190.74 L415.43,189.63 L415.60,188.20 L415.79,186.20 L416.00,183.64 L416.21,180.86 L416.41,178.14 L416.58,175.82 L416.70,174.20 L417.80,152.60 L418.40,120.20 L419.40,88.20 L420.30,81.40 L421.20,70.20 L422.50,46.00 L423.20,54.60 L424.20,97.70 L424.70,120.20 L425.40,152.60 L426.50,168.80 L427.50,175.70 L428.50,177.80 L432.40,179.10 L435.60,183.40 L437.80,175.80 L439.30,182.20 L441.00,190.20 L442.80,185.20 L444.80,180.70 L446.50,184.20 L448.00,189.30 L450.50,191.70 L453.50,193.50 L456.40,194.30 L459.30,190.70 L462.20,187.00 L466.50,188.50 L471.00,191.70 L475.30,194.30 L482.50,197.90 L492.70,199.40 L500.00,200.10 L513.60,201.20 L526.40,200.90 L537.30,202.20" fill="none" stroke="#f28a1e" stroke-width="1.4"/><path d="M331.00,203.90 C335.83,203.85 348.50,203.70 360.00,203.60 C371.50,203.50 391.37,203.38 400.00,203.30 C408.63,203.22 409.47,203.27 411.80,203.10 C414.13,202.93 413.30,203.48 414.00,202.30 C414.70,201.12 415.37,198.55 416.00,196.00 C416.63,193.45 417.20,189.42 417.80,187.00 C418.40,184.58 418.97,182.77 419.60,181.50 C420.23,180.23 420.97,179.40 421.60,179.40 C422.23,179.40 422.87,180.23 423.40,181.50 C423.93,182.77 424.37,185.08 424.80,187.00 C425.23,188.92 425.55,191.43 426.00,193.00 C426.45,194.57 426.43,195.60 427.50,196.40 C428.57,197.20 430.32,197.47 432.40,197.80 C434.48,198.13 437.07,198.13 440.00,198.40 C442.93,198.67 446.07,199.15 450.00,199.40 C453.93,199.65 458.90,199.70 463.60,199.90 C468.30,200.10 472.13,200.23 478.20,200.60 C484.27,200.97 490.15,201.75 500.00,202.10 C509.85,202.45 531.08,202.60 537.30,202.70" fill="none" stroke="#9a22a8" stroke-width="1.6"/><path d="M331.00,204.00 C344.50,203.95 398.00,203.83 412.00,203.70 C426.00,203.57 414.08,203.98 415.00,203.20 C415.92,202.42 416.73,200.70 417.50,199.00 C418.27,197.30 418.97,194.50 419.60,193.00 C420.23,191.50 420.78,190.65 421.30,190.00 C421.82,189.35 422.25,188.93 422.70,189.10 C423.15,189.27 423.58,189.85 424.00,191.00 C424.42,192.15 424.78,194.42 425.20,196.00 C425.62,197.58 425.70,199.67 426.50,200.50 C427.30,201.33 428.12,200.98 430.00,201.00 C431.88,201.02 434.47,200.42 437.80,200.60 C441.13,200.78 445.70,201.68 450.00,202.10 C454.30,202.52 455.27,202.87 463.60,203.10 C471.93,203.33 487.72,203.43 500.00,203.50 C512.28,203.57 531.08,203.50 537.30,203.50" fill="none" stroke="#a040f8" stroke-width="1.3"/><rect x="330.6" y="10.5" width="207.0" height="193.4" fill="none" stroke="#444" stroke-width="1.4"/><line x1="328.8" y1="184.2" x2="330.6" y2="184.2" stroke="#333" stroke-width="1"/><line x1="327.6" y1="163.9" x2="330.6" y2="163.9" stroke="#333" stroke-width="1"/><line x1="328.8" y1="143.6" x2="330.6" y2="143.6" stroke="#333" stroke-width="1"/><line x1="327.6" y1="123.3" x2="330.6" y2="123.3" stroke="#333" stroke-width="1"/><line x1="328.8" y1="103.0" x2="330.6" y2="103.0" stroke="#333" stroke-width="1"/><line x1="327.6" y1="82.7" x2="330.6" y2="82.7" stroke="#333" stroke-width="1"/><line x1="328.8" y1="62.4" x2="330.6" y2="62.4" stroke="#333" stroke-width="1"/><line x1="327.6" y1="42.1" x2="330.6" y2="42.1" stroke="#333" stroke-width="1"/><line x1="328.8" y1="21.8" x2="330.6" y2="21.8" stroke="#333" stroke-width="1"/><text x="321.4" y="166.5" font-size="7.2" text-anchor="end" fill="#2a2a2a" stroke="#2a2a2a" stroke-width="0.12">5.0x10</text><text x="322.3" y="164.5" font-size="4.2" fill="#2a2a2a" stroke="#2a2a2a" stroke-width="0.12">7</text><text x="321.4" y="125.9" font-size="7.2" text-anchor="end" fill="#2a2a2a" stroke="#2a2a2a" stroke-width="0.12">1.0x10</text><text x="322.3" y="123.9" font-size="4.2" fill="#2a2a2a" stroke="#2a2a2a" stroke-width="0.12">8</text><text x="321.4" y="85.3" font-size="7.2" text-anchor="end" fill="#2a2a2a" stroke="#2a2a2a" stroke-width="0.12">1.5x10</text><text x="322.3" y="83.3" font-size="4.2" fill="#2a2a2a" stroke="#2a2a2a" stroke-width="0.12">8</text><text x="321.4" y="44.7" font-size="7.2" text-anchor="end" fill="#2a2a2a" stroke="#2a2a2a" stroke-width="0.12">2.0x10</text><text x="322.3" y="42.7" font-size="4.2" fill="#2a2a2a" stroke="#2a2a2a" stroke-width="0.12">8</text><line x1="331.1" y1="203.9" x2="331.1" y2="205.7" stroke="#333" stroke-width="0.9"/><line x1="333.6" y1="203.9" x2="333.6" y2="205.7" stroke="#333" stroke-width="0.9"/><line x1="336.1" y1="203.9" x2="336.1" y2="205.7" stroke="#333" stroke-width="0.9"/><line x1="338.6" y1="203.9" x2="338.6" y2="207.1" stroke="#333" stroke-width="0.9"/><line x1="341.1" y1="203.9" x2="341.1" y2="205.7" stroke="#333" stroke-width="0.9"/><line x1="343.6" y1="203.9" x2="343.6" y2="205.7" stroke="#333" stroke-width="0.9"/><line x1="346.1" y1="203.9" x2="346.1" y2="205.7" stroke="#333" stroke-width="0.9"/><line x1="348.5" y1="203.9" x2="348.5" y2="205.7" stroke="#333" stroke-width="0.9"/><line x1="351.0" y1="203.9" x2="351.0" y2="205.7" stroke="#333" stroke-width="0.9"/><line x1="353.5" y1="203.9" x2="353.5" y2="205.7" stroke="#333" stroke-width="0.9"/><line x1="356.0" y1="203.9" x2="356.0" y2="205.7" stroke="#333" stroke-width="0.9"/><line x1="358.5" y1="203.9" x2="358.5" y2="205.7" stroke="#333" stroke-width="0.9"/><line x1="361.0" y1="203.9" x2="361.0" y2="205.7" stroke="#333" stroke-width="0.9"/><line x1="363.5" y1="203.9" x2="363.5" y2="207.1" stroke="#333" stroke-width="0.9"/><line x1="365.9" y1="203.9" x2="365.9" y2="205.7" stroke="#333" stroke-width="0.9"/><line x1="368.4" y1="203.9" x2="368.4" y2="205.7" stroke="#333" stroke-width="0.9"/><line x1="370.9" y1="203.9" x2="370.9" y2="205.7" stroke="#333" stroke-width="0.9"/><line x1="373.4" y1="203.9" x2="373.4" y2="205.7" stroke="#333" stroke-width="0.9"/><line x1="375.9" y1="203.9" x2="375.9" y2="205.7" stroke="#333" stroke-width="0.9"/><line x1="378.4" y1="203.9" x2="378.4" y2="205.7" stroke="#333" stroke-width="0.9"/><line x1="380.8" y1="203.9" x2="380.8" y2="205.7" stroke="#333" stroke-width="0.9"/><line x1="383.3" y1="203.9" x2="383.3" y2="205.7" stroke="#333" stroke-width="0.9"/><line x1="385.8" y1="203.9" x2="385.8" y2="205.7" stroke="#333" stroke-width="0.9"/><line x1="388.3" y1="203.9" x2="388.3" y2="207.1" stroke="#333" stroke-width="0.9"/><line x1="390.8" y1="203.9" x2="390.8" y2="205.7" stroke="#333" stroke-width="0.9"/><line x1="393.3" y1="203.9" x2="393.3" y2="205.7" stroke="#333" stroke-width="0.9"/><line x1="395.8" y1="203.9" x2="395.8" y2="205.7" stroke="#333" stroke-width="0.9"/><line x1="398.2" y1="203.9" x2="398.2" y2="205.7" stroke="#333" stroke-width="0.9"/><line x1="400.7" y1="203.9" x2="400.7" y2="205.7" stroke="#333" stroke-width="0.9"/><line x1="403.2" y1="203.9" x2="403.2" y2="205.7" stroke="#333" stroke-width="0.9"/><line x1="405.7" y1="203.9" x2="405.7" y2="205.7" stroke="#333" stroke-width="0.9"/><line x1="408.2" y1="203.9" x2="408.2" y2="205.7" stroke="#333" stroke-width="0.9"/><line x1="410.7" y1="203.9" x2="410.7" y2="205.7" stroke="#333" stroke-width="0.9"/><line x1="413.2" y1="203.9" x2="413.2" y2="207.1" stroke="#333" stroke-width="0.9"/><line x1="415.6" y1="203.9" x2="415.6" y2="205.7" stroke="#333" stroke-width="0.9"/><line x1="418.1" y1="203.9" x2="418.1" y2="205.7" stroke="#333" stroke-width="0.9"/><line x1="420.6" y1="203.9" x2="420.6" y2="205.7" stroke="#333" stroke-width="0.9"/><line x1="423.1" y1="203.9" x2="423.1" y2="205.7" stroke="#333" stroke-width="0.9"/><line x1="425.6" y1="203.9" x2="425.6" y2="205.7" stroke="#333" stroke-width="0.9"/><line x1="428.1" y1="203.9" x2="428.1" y2="205.7" stroke="#333" stroke-width="0.9"/><line x1="430.5" y1="203.9" x2="430.5" y2="205.7" stroke="#333" stroke-width="0.9"/><line x1="433.0" y1="203.9" x2="433.0" y2="205.7" stroke="#333" stroke-width="0.9"/><line x1="435.5" y1="203.9" x2="435.5" y2="205.7" stroke="#333" stroke-width="0.9"/><line x1="438.0" y1="203.9" x2="438.0" y2="207.1" stroke="#333" stroke-width="0.9"/><line x1="440.5" y1="203.9" x2="440.5" y2="205.7" stroke="#333" stroke-width="0.9"/><line x1="443.0" y1="203.9" x2="443.0" y2="205.7" stroke="#333" stroke-width="0.9"/><line x1="445.5" y1="203.9" x2="445.5" y2="205.7" stroke="#333" stroke-width="0.9"/><line x1="447.9" y1="203.9" x2="447.9" y2="205.7" stroke="#333" stroke-width="0.9"/><line x1="450.4" y1="203.9" x2="450.4" y2="205.7" stroke="#333" stroke-width="0.9"/><line x1="452.9" y1="203.9" x2="452.9" y2="205.7" stroke="#333" stroke-width="0.9"/><line x1="455.4" y1="203.9" x2="455.4" y2="205.7" stroke="#333" stroke-width="0.9"/><line x1="457.9" y1="203.9" x2="457.9" y2="205.7" stroke="#333" stroke-width="0.9"/><line x1="460.4" y1="203.9" x2="460.4" y2="205.7" stroke="#333" stroke-width="0.9"/><line x1="462.9" y1="203.9" x2="462.9" y2="207.1" stroke="#333" stroke-width="0.9"/><line x1="465.3" y1="203.9" x2="465.3" y2="205.7" stroke="#333" stroke-width="0.9"/><line x1="467.8" y1="203.9" x2="467.8" y2="205.7" stroke="#333" stroke-width="0.9"/><line x1="470.3" y1="203.9" x2="470.3" y2="205.7" stroke="#333" stroke-width="0.9"/><line x1="472.8" y1="203.9" x2="472.8" y2="205.7" stroke="#333" stroke-width="0.9"/><line x1="475.3" y1="203.9" x2="475.3" y2="205.7" stroke="#333" stroke-width="0.9"/><line x1="477.8" y1="203.9" x2="477.8" y2="205.7" stroke="#333" stroke-width="0.9"/><line x1="480.2" y1="203.9" x2="480.2" y2="205.7" stroke="#333" stroke-width="0.9"/><line x1="482.7" y1="203.9" x2="482.7" y2="205.7" stroke="#333" stroke-width="0.9"/><line x1="485.2" y1="203.9" x2="485.2" y2="205.7" stroke="#333" stroke-width="0.9"/><line x1="487.7" y1="203.9" x2="487.7" y2="207.1" stroke="#333" stroke-width="0.9"/><line x1="490.2" y1="203.9" x2="490.2" y2="205.7" stroke="#333" stroke-width="0.9"/><line x1="492.7" y1="203.9" x2="492.7" y2="205.7" stroke="#333" stroke-width="0.9"/><line x1="495.2" y1="203.9" x2="495.2" y2="205.7" stroke="#333" stroke-width="0.9"/><line x1="497.6" y1="203.9" x2="497.6" y2="205.7" stroke="#333" stroke-width="0.9"/><line x1="500.1" y1="203.9" x2="500.1" y2="205.7" stroke="#333" stroke-width="0.9"/><line x1="502.6" y1="203.9" x2="502.6" y2="205.7" stroke="#333" stroke-width="0.9"/><line x1="505.1" y1="203.9" x2="505.1" y2="205.7" stroke="#333" stroke-width="0.9"/><line x1="507.6" y1="203.9" x2="507.6" y2="205.7" stroke="#333" stroke-width="0.9"/><line x1="510.1" y1="203.9" x2="510.1" y2="205.7" stroke="#333" stroke-width="0.9"/><line x1="512.5" y1="203.9" x2="512.5" y2="207.1" stroke="#333" stroke-width="0.9"/><line x1="515.0" y1="203.9" x2="515.0" y2="205.7" stroke="#333" stroke-width="0.9"/><line x1="517.5" y1="203.9" x2="517.5" y2="205.7" stroke="#333" stroke-width="0.9"/><line x1="520.0" y1="203.9" x2="520.0" y2="205.7" stroke="#333" stroke-width="0.9"/><line x1="522.5" y1="203.9" x2="522.5" y2="205.7" stroke="#333" stroke-width="0.9"/><line x1="525.0" y1="203.9" x2="525.0" y2="205.7" stroke="#333" stroke-width="0.9"/><line x1="527.5" y1="203.9" x2="527.5" y2="205.7" stroke="#333" stroke-width="0.9"/><line x1="529.9" y1="203.9" x2="529.9" y2="205.7" stroke="#333" stroke-width="0.9"/><line x1="532.4" y1="203.9" x2="532.4" y2="205.7" stroke="#333" stroke-width="0.9"/><line x1="534.9" y1="203.9" x2="534.9" y2="205.7" stroke="#333" stroke-width="0.9"/><line x1="537.4" y1="203.9" x2="537.4" y2="207.1" stroke="#333" stroke-width="0.9"/><text x="338.6" y="217.8" font-size="9.4" text-anchor="middle" fill="#1e1e1e" stroke="#1e1e1e" stroke-width="0.16">1.89</text><text x="363.5" y="217.8" font-size="9.4" text-anchor="middle" fill="#1e1e1e" stroke="#1e1e1e" stroke-width="0.16">1.86</text><text x="388.3" y="217.8" font-size="9.4" text-anchor="middle" fill="#1e1e1e" stroke="#1e1e1e" stroke-width="0.16">1.83</text><text x="413.2" y="217.8" font-size="9.4" text-anchor="middle" fill="#1e1e1e" stroke="#1e1e1e" stroke-width="0.16">1.80</text><text x="438.0" y="217.8" font-size="9.4" text-anchor="middle" fill="#1e1e1e" stroke="#1e1e1e" stroke-width="0.16">1.77</text><text x="462.9" y="217.8" font-size="9.4" text-anchor="middle" fill="#1e1e1e" stroke="#1e1e1e" stroke-width="0.16">1.74</text><text x="487.7" y="217.8" font-size="9.4" text-anchor="middle" fill="#1e1e1e" stroke="#1e1e1e" stroke-width="0.16">1.71</text><text x="512.6" y="217.8" font-size="9.4" text-anchor="middle" fill="#1e1e1e" stroke="#1e1e1e" stroke-width="0.16">1.68</text><text x="537.4" y="217.8" font-size="9.4" text-anchor="middle" fill="#1e1e1e" stroke="#1e1e1e" stroke-width="0.16">1.65</text><text x="420.5" y="234.3" font-size="12.2" text-anchor="middle" fill="#111" stroke="#111" stroke-width="0.22">Energy (eV)</text><text transform="translate(292.8,102.3) rotate(-90) scale(1,0.93)" font-size="12.4" text-anchor="middle" fill="#111" stroke="#111" stroke-width="0.22">Intensity (arb. units)</text><line x1="468.2" y1="25.5" x2="484.5" y2="25.5" stroke="#a040f8" stroke-width="1.5"/><text x="486.8" y="28.1" font-size="7.2" fill="#1e1e1e" stroke="#1e1e1e" stroke-width="0.12">PL @ 310 nm</text><line x1="468.2" y1="34.4" x2="484.5" y2="34.4" stroke="#9a22a8" stroke-width="1.5"/><text x="486.8" y="37.0" font-size="7.2" fill="#1e1e1e" stroke="#1e1e1e" stroke-width="0.12">PL @ 325 nm</text><line x1="468.2" y1="43.3" x2="484.5" y2="43.3" stroke="#2aa8f0" stroke-width="1.5"/><text x="486.8" y="45.9" font-size="7.2" fill="#1e1e1e" stroke="#1e1e1e" stroke-width="0.12">PL @ 372 nm</text><line x1="468.2" y1="52.2" x2="484.5" y2="52.2" stroke="#2340e8" stroke-width="1.5"/><text x="486.8" y="54.8" font-size="7.2" fill="#1e1e1e" stroke="#1e1e1e" stroke-width="0.12">PL @ 436 nm</text><line x1="468.2" y1="61.1" x2="484.5" y2="61.1" stroke="#30e030" stroke-width="1.5"/><text x="486.8" y="63.7" font-size="7.2" fill="#1e1e1e" stroke="#1e1e1e" stroke-width="0.12">PL @ 520 nm</text><line x1="468.2" y1="70.0" x2="484.5" y2="70.0" stroke="#f28a1e" stroke-width="1.5"/><text x="486.8" y="72.6" font-size="7.2" fill="#1e1e1e" stroke="#1e1e1e" stroke-width="0.12">PL @ 581 nm</text><text x="335.2" y="29.7" font-size="11.5" fill="#111" stroke="#111" stroke-width="0.22">(b)</text><text x="407.30" y="28.26" font-size="6.45" fill="#111" stroke="#111" stroke-width="0.12">2</text><text x="410.89" y="32.00" font-size="10.40" fill="#111" stroke="#111" stroke-width="0.22">E</text><path d="M421.57,28.26 H429.07" stroke="#111" stroke-width="0.78"/><path d="M427.37,26.28 L430.57,28.26 L427.37,30.23 Z" fill="#111"/><text x="431.82" y="28.26" font-size="6.45" fill="#111" stroke="#111" stroke-width="0.12">4</text><text x="435.40" y="32.00" font-size="10.40" fill="#111" stroke="#111" stroke-width="0.22">A</text><text x="442.34" y="34.29" font-size="6.45" fill="#111" stroke="#111" stroke-width="0.12">2</text><text x="412.9" y="40.4" font-size="7.8" fill="#1e1e1e" stroke="#1e1e1e" stroke-width="0.12">R-lines</text><text x="425" y="52.5" font-size="7.4" fill="#1e1e1e" stroke="#1e1e1e" stroke-width="0.12">R<tspan font-size="4.6" dy="1.9">1</tspan></text><text x="413.1" y="76.9" font-size="7.4" fill="#1e1e1e" stroke="#1e1e1e" stroke-width="0.12">R<tspan font-size="4.6" dy="1.9">2</tspan></text><text x="433.2" y="164.3" font-size="7.7" fill="#1e1e1e" stroke="#1e1e1e" stroke-width="0.12">N-lines</text><text x="435.8" y="173.3" font-size="7.4" fill="#1e1e1e" stroke="#1e1e1e" stroke-width="0.12">N<tspan font-size="4.6" dy="1.9">2</tspan><tspan dy="-1.9">N</tspan><tspan font-size="4.6" dy="1.9">1</tspan></text><text x="338.40" y="162.78" font-size="6.57" fill="#111" stroke="#111" stroke-width="0.12">2</text><text x="342.06" y="166.60" font-size="10.60" fill="#111" stroke="#111" stroke-width="0.22">T</text><text x="348.53" y="168.93" font-size="6.57" fill="#111" stroke="#111" stroke-width="0.12">1</text><path d="M353.46,162.78 H361.46" stroke="#111" stroke-width="0.79"/><path d="M359.76,160.77 L362.96,162.78 L359.76,164.80 Z" fill="#111"/><text x="364.23" y="162.78" font-size="6.57" fill="#111" stroke="#111" stroke-width="0.12">4</text><text x="367.88" y="166.60" font-size="10.60" fill="#111" stroke="#111" stroke-width="0.22">A</text><text x="374.95" y="168.93" font-size="6.57" fill="#111" stroke="#111" stroke-width="0.12">2</text><text x="345.5" y="178.3" font-size="7.6" fill="#1e1e1e" stroke="#1e1e1e" stroke-width="0.12">R’-lines</text><text x="363.2" y="189" font-size="7.4" fill="#1e1e1e" stroke="#1e1e1e" stroke-width="0.12">R’<tspan font-size="4.6" dy="1.9">3</tspan></text><text x="333.5" y="196" font-size="7.4" fill="#1e1e1e" stroke="#1e1e1e" stroke-width="0.12">R’<tspan font-size="4.6" dy="1.9">1</tspan><tspan dy="-1.9">+R’</tspan><tspan font-size="4.6" dy="1.9">2</tspan></text></g>
<g id="pc"><text x="259.4" y="260.5" font-size="12.6" font-weight="bold" fill="#111" stroke="#111" stroke-width="0.10">3d<tspan font-size="8" dy="-4.8">3</tspan><tspan dy="4.8"> (O</tspan><tspan font-size="8.6" dy="3.2">h</tspan><tspan dy="-3.2">)</tspan></text><path d="M182.50,467.23 C184.93,466.44 190.99,463.71 197.05,462.48 C203.11,461.24 209.18,460.42 218.88,459.80 C228.57,459.18 241.10,459.06 255.25,458.76 C269.40,458.47 282.49,458.29 303.75,458.02 C325.01,457.75 369.63,457.28 382.81,457.13" fill="none" stroke="#f3a4f3" stroke-width="1.5"/><path d="M182.50,466.63 C184.84,465.84 191.72,463.17 196.56,461.88 C201.41,460.60 205.46,459.73 211.60,458.91 C217.74,458.10 226.15,457.45 233.43,456.98 C240.70,456.51 243.53,456.41 255.25,456.09 C266.97,455.77 282.01,455.40 303.75,455.05 C325.49,454.70 372.05,454.18 385.72,454.01" fill="none" stroke="#e8a440" stroke-width="1.5"/><path d="M182.50,465.45 C185.73,463.02 195.03,455.05 201.90,450.89 C208.77,446.73 216.45,443.22 223.72,440.50 C231.00,437.78 238.28,436.24 245.55,434.56 C252.83,432.88 259.94,431.59 267.38,430.40 C274.81,429.21 281.76,428.42 290.17,427.43 C298.58,426.44 308.28,425.30 317.81,424.46 C327.35,423.62 336.57,423.02 347.40,422.38 C358.23,421.74 376.90,420.90 382.81,420.60" fill="none" stroke="#e8d030" stroke-width="1.5"/><path d="M182.50,464.85 C185.73,463.07 195.03,458.22 201.90,454.16 C208.77,450.10 216.45,444.95 223.72,440.50 C231.00,436.04 238.28,431.74 245.55,427.43 C252.83,423.12 259.94,418.87 267.38,414.66 C274.81,410.45 281.76,407.04 290.17,402.19 C298.58,397.33 308.28,391.39 317.81,385.55 C327.35,379.71 337.62,373.48 347.40,367.14 C357.18,360.80 370.28,351.65 376.50,347.54 C382.72,343.43 383.37,343.33 384.75,342.49" fill="none" stroke="#1ea8f0" stroke-width="1.5"/><path d="M182.50,474.95 L183.47,474.24 L184.44,473.52 L185.41,472.80 L186.38,472.08 L187.35,471.35 L188.32,470.63 L189.29,469.89 L190.26,469.16 L191.23,468.42 L192.20,467.68 L193.17,466.94 L194.14,466.20 L195.11,465.45 L196.08,464.69 L197.05,463.94 L198.02,463.18 L198.99,462.41 L199.96,461.65 L200.93,460.87 L201.90,460.10 L202.87,459.32 L203.84,458.54 L204.81,457.75 L205.78,456.96 L206.75,456.17 L207.72,455.37 L208.69,454.56 L209.66,453.76 L210.63,452.94 L211.60,452.13 L212.57,451.31 L213.54,450.48 L214.51,449.65 L215.48,448.81 L216.45,447.97 L217.42,447.13 L218.39,446.28 L219.36,445.43 L220.33,444.57 L221.30,443.70 L222.27,442.83 L223.24,441.96 L224.21,441.08 L225.18,440.20 L226.15,439.31 L227.12,438.42 L228.09,437.52 L229.06,436.61 L230.03,435.71 L231.00,434.79 L231.97,433.88 L232.94,432.95 L233.91,432.02 L234.88,431.09 L235.85,430.15 L236.82,429.21 L237.79,428.27 L238.76,427.31 L239.73,426.36 L240.70,425.40 L241.67,424.43 L242.64,423.46 L243.61,422.49 L244.58,421.51 L245.55,420.53 L246.52,419.54 L247.49,418.55 L248.46,417.55 L249.43,416.55 L250.40,415.55 L251.37,414.54 L252.34,413.53 L253.31,412.52 L254.28,411.50 L255.25,410.48 L256.22,409.45 L257.19,408.42 L258.16,407.39 L259.13,406.35 L260.10,405.31 L261.07,404.27 L262.04,403.23 L263.01,402.18 L263.98,401.13 L264.95,400.07 L265.92,399.02 L266.89,397.96 L267.86,396.89 L268.83,395.83 L269.80,394.76 L270.77,393.69 L271.74,392.62 L272.71,391.54 L273.68,390.46 L274.65,389.38 L275.62,388.30 L276.59,387.22 L277.56,386.13 L278.53,385.04 L279.50,383.95 L280.47,382.86 L281.44,381.76 L282.41,380.67 L283.38,379.57 L284.35,378.47 L285.32,377.37 L286.29,376.26 L287.26,375.16 L288.23,374.05 L289.20,372.94 L290.17,371.83 L291.14,370.72 L292.11,369.61 L293.08,368.49 L294.05,367.38 L295.02,366.26 L295.99,365.14 L296.96,364.02 L297.93,362.90 L298.90,361.78 L299.87,360.66 L300.84,359.53 L301.81,358.41 L302.78,357.28 L303.75,356.15 L304.72,355.02 L305.69,353.89 L306.66,352.76 L307.63,351.63 L308.60,350.49 L309.57,349.36 L310.54,348.23 L311.51,347.09 L312.48,345.95 L313.45,344.81 L314.42,343.68 L315.39,342.54 L316.36,341.40 L317.33,340.26 L318.30,339.11 L319.27,337.97 L320.24,336.83 L321.21,335.68 L322.18,334.54 L323.15,333.39 L324.12,332.25 L325.09,331.10 L326.06,329.95 L327.03,328.81 L328.00,327.66 L328.97,326.51 L329.94,325.36 L330.91,324.21 L331.88,323.06 L332.85,321.91 L333.82,320.75 L334.79,319.60 L335.76,318.45 L336.73,317.29 L337.70,316.14 L338.67,314.99 L339.64,313.83 L340.61,312.68 L341.58,311.52 L342.55,310.36 L343.52,309.21 L344.49,308.05 L345.46,306.89 L346.43,305.73 L347.40,304.57 L348.37,303.42 L349.34,302.26 L350.31,301.10 L351.28,299.94 L352.25,298.78 L353.22,297.62 L354.19,296.45 L355.16,295.29 L356.13,294.13 L357.10,292.97 L358.07,291.81 L359.04,290.64 L360.01,289.48 L360.98,288.32 L361.95,287.15 L362.92,285.99 L363.89,284.82 L364.86,283.66 L365.83,282.49 L366.80,281.33 L366.32,281.90" fill="none" stroke="#2a44ee" stroke-width="1.5"/><path d="M182.50,407.83 L385.23,286.06" fill="none" stroke="#a524d8" stroke-width="1.5"/><path d="M182.50,519.50 C183.31,518.61 185.73,515.95 187.35,514.19 C188.97,512.43 190.58,510.68 192.20,508.95 C193.82,507.21 195.43,505.49 197.05,503.78 C198.67,502.08 200.28,500.38 201.90,498.71 C203.52,497.04 205.13,495.38 206.75,493.73 C208.37,492.09 209.98,490.47 211.60,488.86 C213.22,487.26 214.83,485.67 216.45,484.11 C218.07,482.54 219.68,480.99 221.30,479.47 C222.92,477.94 224.53,476.44 226.15,474.95 C227.77,473.46 229.38,472.00 231.00,470.56 C232.62,469.11 234.23,467.69 235.85,466.29 C237.47,464.88 239.08,463.50 240.70,462.13 C242.32,460.77 243.93,459.42 245.55,458.09 C247.17,456.77 248.78,455.46 250.40,454.16 C252.02,452.86 253.63,451.59 255.25,450.32 C256.87,449.06 258.48,447.81 260.10,446.58 C261.72,445.34 263.33,444.12 264.95,442.91 C266.57,441.70 268.18,440.50 269.80,439.31 C271.42,438.12 273.03,436.94 274.65,435.78 C276.27,434.61 277.88,433.45 279.50,432.30 C281.12,431.15 282.73,430.01 284.35,428.87 C285.97,427.74 287.58,426.61 289.20,425.49 C290.82,424.37 292.43,423.25 294.05,422.14 C295.67,421.03 297.28,419.93 298.90,418.83 C300.52,417.73 302.13,416.64 303.75,415.55 C305.37,414.46 306.98,413.38 308.60,412.30 C310.22,411.22 311.83,410.14 313.45,409.07 C315.07,407.99 316.68,406.92 318.30,405.86 C319.92,404.79 321.53,403.73 323.15,402.67 C324.77,401.61 326.38,400.55 328.00,399.49 C329.62,398.44 331.23,397.38 332.85,396.33 C334.47,395.28 336.08,394.24 337.70,393.19 C339.32,392.14 340.93,391.10 342.55,390.06 C344.17,389.01 345.78,387.97 347.40,386.94 C349.02,385.90 350.63,384.86 352.25,383.82 C353.87,382.79 355.48,381.75 357.10,380.72 C358.72,379.69 360.33,378.66 361.95,377.63 C363.57,376.60 365.18,375.57 366.80,374.54 C368.42,373.51 370.03,372.49 371.65,371.46 C373.27,370.44 374.88,369.41 376.50,368.39 C378.12,367.37 379.98,366.19 381.35,365.32 C382.72,364.45 384.18,363.53 384.75,363.18" fill="none" stroke="#22c8a4" stroke-width="1.5"/><path d="M182.50,519.50 L385.23,395.35" fill="none" stroke="#18c82c" stroke-width="1.5"/><line x1="317.7" y1="282" x2="317.7" y2="519" stroke="#222" stroke-width="0.9" stroke-dasharray="1.3,1.1"/><path d="M182.5,519.6 V281.8 H376.5 V519.6 H182.5" fill="none" stroke="#333" stroke-width="1.1"/><line x1="182.5" y1="520.2" x2="376.5" y2="520.2" stroke="#222" stroke-width="1"/><line x1="182.5" y1="519.4" x2="376.5" y2="519.4" stroke="#8ee040" stroke-width="2.8"/><line x1="179.5" y1="519.5" x2="182.5" y2="519.5" stroke="#222" stroke-width="1"/><line x1="179.5" y1="489.8" x2="182.5" y2="489.8" stroke="#222" stroke-width="1"/><text x="176.6" y="492.8" font-size="8.5" text-anchor="end" fill="#1e1e1e" stroke="#1e1e1e" stroke-width="0.16">10</text><line x1="179.5" y1="460.1" x2="182.5" y2="460.1" stroke="#222" stroke-width="1"/><text x="176.6" y="463.1" font-size="8.5" text-anchor="end" fill="#1e1e1e" stroke="#1e1e1e" stroke-width="0.16">20</text><line x1="179.5" y1="430.4" x2="182.5" y2="430.4" stroke="#222" stroke-width="1"/><text x="176.6" y="433.4" font-size="8.5" text-anchor="end" fill="#1e1e1e" stroke="#1e1e1e" stroke-width="0.16">30</text><line x1="179.5" y1="400.7" x2="182.5" y2="400.7" stroke="#222" stroke-width="1"/><text x="176.6" y="403.7" font-size="8.5" text-anchor="end" fill="#1e1e1e" stroke="#1e1e1e" stroke-width="0.16">40</text><line x1="179.5" y1="371.0" x2="182.5" y2="371.0" stroke="#222" stroke-width="1"/><text x="176.6" y="374.0" font-size="8.5" text-anchor="end" fill="#1e1e1e" stroke="#1e1e1e" stroke-width="0.16">50</text><line x1="179.5" y1="341.3" x2="182.5" y2="341.3" stroke="#222" stroke-width="1"/><text x="176.6" y="344.3" font-size="8.5" text-anchor="end" fill="#1e1e1e" stroke="#1e1e1e" stroke-width="0.16">60</text><line x1="179.5" y1="311.6" x2="182.5" y2="311.6" stroke="#222" stroke-width="1"/><text x="176.6" y="314.6" font-size="8.5" text-anchor="end" fill="#1e1e1e" stroke="#1e1e1e" stroke-width="0.16">70</text><line x1="179.5" y1="281.9" x2="182.5" y2="281.9" stroke="#222" stroke-width="1"/><text x="176.6" y="284.9" font-size="8.5" text-anchor="end" fill="#1e1e1e" stroke="#1e1e1e" stroke-width="0.16">80</text><line x1="182.5" y1="520.1" x2="182.5" y2="523.1" stroke="#222" stroke-width="0.9"/><line x1="192.2" y1="520.1" x2="192.2" y2="521.7" stroke="#222" stroke-width="0.9"/><line x1="201.9" y1="520.1" x2="201.9" y2="521.7" stroke="#222" stroke-width="0.9"/><line x1="211.6" y1="520.1" x2="211.6" y2="521.7" stroke="#222" stroke-width="0.9"/><line x1="221.3" y1="520.1" x2="221.3" y2="521.7" stroke="#222" stroke-width="0.9"/><line x1="231.0" y1="520.1" x2="231.0" y2="523.1" stroke="#222" stroke-width="0.9"/><line x1="240.7" y1="520.1" x2="240.7" y2="521.7" stroke="#222" stroke-width="0.9"/><line x1="250.4" y1="520.1" x2="250.4" y2="521.7" stroke="#222" stroke-width="0.9"/><line x1="260.1" y1="520.1" x2="260.1" y2="521.7" stroke="#222" stroke-width="0.9"/><line x1="269.8" y1="520.1" x2="269.8" y2="521.7" stroke="#222" stroke-width="0.9"/><line x1="279.5" y1="520.1" x2="279.5" y2="523.1" stroke="#222" stroke-width="0.9"/><line x1="289.2" y1="520.1" x2="289.2" y2="521.7" stroke="#222" stroke-width="0.9"/><line x1="298.9" y1="520.1" x2="298.9" y2="521.7" stroke="#222" stroke-width="0.9"/><line x1="308.6" y1="520.1" x2="308.6" y2="521.7" stroke="#222" stroke-width="0.9"/><line x1="318.3" y1="520.1" x2="318.3" y2="521.7" stroke="#222" stroke-width="0.9"/><line x1="328.0" y1="520.1" x2="328.0" y2="523.1" stroke="#222" stroke-width="0.9"/><line x1="337.7" y1="520.1" x2="337.7" y2="521.7" stroke="#222" stroke-width="0.9"/><line x1="347.4" y1="520.1" x2="347.4" y2="521.7" stroke="#222" stroke-width="0.9"/><line x1="357.1" y1="520.1" x2="357.1" y2="521.7" stroke="#222" stroke-width="0.9"/><line x1="366.8" y1="520.1" x2="366.8" y2="521.7" stroke="#222" stroke-width="0.9"/><line x1="376.5" y1="520.1" x2="376.5" y2="523.1" stroke="#222" stroke-width="0.9"/><text x="182.5" y="532" font-size="8.5" text-anchor="middle" fill="#1e1e1e" stroke="#1e1e1e" stroke-width="0.16">0</text><text x="231.0" y="532" font-size="8.5" text-anchor="middle" fill="#1e1e1e" stroke="#1e1e1e" stroke-width="0.16">1</text><text x="279.5" y="532" font-size="8.5" text-anchor="middle" fill="#1e1e1e" stroke="#1e1e1e" stroke-width="0.16">2</text><text x="328.0" y="532" font-size="8.5" text-anchor="middle" fill="#1e1e1e" stroke="#1e1e1e" stroke-width="0.16">3</text><text x="376.5" y="532" font-size="8.5" text-anchor="middle" fill="#1e1e1e" stroke="#1e1e1e" stroke-width="0.16">4</text><text x="279.3" y="544" font-size="10.5" text-anchor="middle" fill="#111" stroke="#111" stroke-width="0.22">Dq/B</text><text transform="translate(162.3,393.6) rotate(-90)" font-size="10.5" text-anchor="middle" fill="#111" stroke="#111" stroke-width="0.22">E/B</text><text x="200.9" y="296.6" font-size="12" text-anchor="end" fill="#111" stroke="#111" stroke-width="0.22">(c)</text><text x="357.8" y="277.5" font-size="10.2" fill="#111" stroke="#111" stroke-width="0.22"><tspan font-size="6.3" dy="-3.3">4</tspan><tspan dy="3.3">T</tspan><tspan font-size="6.3" dy="2.2">1</tspan></text><text x="377.6" y="293.5" font-size="10.2" fill="#111" stroke="#111" stroke-width="0.22"><tspan font-size="6.3" dy="-3.3">2</tspan><tspan dy="3.3">A</tspan><tspan font-size="6.3" dy="2.2">2</tspan></text><text x="378.6" y="352.6" font-size="10.2" fill="#111" stroke="#111" stroke-width="0.22"><tspan font-size="6.3" dy="-3.3">2</tspan><tspan dy="3.3">A</tspan><tspan font-size="6.3" dy="2.2">1</tspan></text><text x="378.6" y="371.1" font-size="10.2" fill="#111" stroke="#111" stroke-width="0.22"><tspan font-size="6.3" dy="-3.3">4</tspan><tspan dy="3.3">T</tspan><tspan font-size="6.3" dy="2.2">1</tspan></text><text x="378.4" y="407.2" font-size="10.2" fill="#111" stroke="#111" stroke-width="0.22"><tspan font-size="6.3" dy="-3.3">4</tspan><tspan dy="3.3">T</tspan><tspan font-size="6.3" dy="2.2">2</tspan></text><text x="378.4" y="424.8" font-size="10.2" fill="#111" stroke="#111" stroke-width="0.22"><tspan font-size="6.3" dy="-3.3">2</tspan><tspan dy="3.3">T</tspan><tspan font-size="6.3" dy="2.2">2</tspan></text><text x="377.6" y="454.4" font-size="10.2" fill="#111" stroke="#111" stroke-width="0.22"><tspan font-size="6.3" dy="-3.3">2</tspan><tspan dy="3.3">T</tspan><tspan font-size="6.3" dy="2.2">1</tspan></text><text x="378.2" y="469.4" font-size="10.2" fill="#111" stroke="#111" stroke-width="0.22"><tspan font-size="6.3" dy="-3.3">2</tspan><tspan dy="3.3">E</tspan></text><text x="377.6" y="522.6" font-size="10.2" fill="#111" stroke="#111" stroke-width="0.22"><tspan font-size="6.3" dy="-3.3">4</tspan><tspan dy="3.3">A</tspan><tspan font-size="6.3" dy="2.2">2</tspan></text><text x="171.8" y="412.8" font-size="9.8" fill="#111" stroke="#111" stroke-width="0.16"><tspan font-size="6.1" dy="-3.3">2</tspan><tspan dy="3.3">F</tspan></text><text x="154.2" y="469.4" font-size="10.3" fill="#111" stroke="#111" stroke-width="0.22"><tspan font-size="6.4" dy="-3.3">2</tspan><tspan dy="3.3">G</tspan></text><line x1="169" y1="465.6" x2="182.5" y2="465.6" stroke="#111" stroke-width="1.1"/><text x="170.5" y="478.3" font-size="9.5" fill="#111" stroke="#111" stroke-width="0.16"><tspan font-size="5.9" dy="-3.3">4</tspan><tspan dy="3.3">P</tspan></text><text x="167.3" y="522.8" font-size="9.5" fill="#111" stroke="#111" stroke-width="0.16"><tspan font-size="5.9" dy="-3.3">4</tspan><tspan dy="3.3">F</tspan></text><line x1="320" y1="457.5" x2="320" y2="516" stroke="#e8101a" stroke-width="1.1"/><path d="M318,513 L320,519.5 L322,513 Z" fill="#e8101a"/><line x1="323.8" y1="454" x2="323.8" y2="516" stroke="#e8101a" stroke-width="1.1"/><path d="M321.8,513 L323.8,519.5 L325.8,513 Z" fill="#e8101a"/><text x="311" y="489" font-size="10.5" fill="#e8101a" stroke="#e8101a" stroke-width="0.22">R</text><text x="326.5" y="484" font-size="10.5" fill="#e8101a" stroke="#e8101a" stroke-width="0.22">R’</text></g>
<g id="pd"><text x="108.5" y="572.5" font-size="11.5" fill="#111" stroke="#111" stroke-width="0.22">(d)</text><line x1="100.5" y1="600" x2="100.5" y2="823.3" stroke="#111" stroke-width="1.2"/><path d="M97.8,600.5 L100.5,595.3 L103.2,600.5 Z" fill="#111"/><text x="62.4" y="621.6" font-size="12.2" textLength="32.7" lengthAdjust="spacingAndGlyphs" fill="#111" stroke="#111" stroke-width="0.22">E (eV)</text><line x1="156.4" y1="627.7" x2="231.6" y2="627.7" stroke="#7f7f7f" stroke-width="1.3"/><text x="149.6" y="631.2" font-size="10" font-weight="bold" text-anchor="end" fill="#7f7f7f" stroke="#7f7f7f" stroke-width="0.10">1.882</text><line x1="156.4" y1="637.3" x2="231.6" y2="637.3" stroke="#7f7f7f" stroke-width="1.3"/><text x="149.6" y="640.8" font-size="10" font-weight="bold" text-anchor="end" fill="#7f7f7f" stroke="#7f7f7f" stroke-width="0.10">1.855</text><line x1="156.4" y1="656.4" x2="231.6" y2="656.4" stroke="#7f7f7f" stroke-width="1.3"/><text x="149.6" y="659.9" font-size="10" font-weight="bold" text-anchor="end" fill="#7f7f7f" stroke="#7f7f7f" stroke-width="0.10">1.792</text><line x1="156.4" y1="668.1" x2="231.6" y2="668.1" stroke="#7f7f7f" stroke-width="1.3"/><text x="149.6" y="671.6" font-size="10" font-weight="bold" text-anchor="end" fill="#7f7f7f" stroke="#7f7f7f" stroke-width="0.10">1.788</text><line x1="155.5" y1="770" x2="231.4" y2="770" stroke="#7f7f7f" stroke-width="1.3"/><line x1="166.4" y1="668.1" x2="166.4" y2="765" stroke="#ee1111" stroke-width="1.2"/><path d="M164.2,763.5 L166.4,769.5 L168.6,763.5 Z" fill="#ee1111"/><line x1="174.5" y1="656.4" x2="174.5" y2="765" stroke="#ee1111" stroke-width="1.2"/><path d="M172.3,763.5 L174.5,769.5 L176.7,763.5 Z" fill="#ee1111"/><line x1="200.6" y1="637.3" x2="200.6" y2="765" stroke="#ee1111" stroke-width="1.2"/><path d="M198.4,763.5 L200.6,769.5 L202.8,763.5 Z" fill="#ee1111"/><line x1="213.3" y1="627.7" x2="213.3" y2="765" stroke="#ee1111" stroke-width="1.2"/><path d="M211.1,763.5 L213.3,769.5 L215.5,763.5 Z" fill="#ee1111"/><text x="130.1" y="724.2" font-size="10.4" textLength="29.8" lengthAdjust="spacingAndGlyphs" stroke="#ee1111" stroke-width="0.3" fill="#ee1111">R-lines</text><text x="220.3" y="724.2" font-size="10.4" textLength="32.6" lengthAdjust="spacingAndGlyphs" stroke="#ee1111" stroke-width="0.3" fill="#ee1111">R’-lines</text><text x="234" y="774.2" font-size="11.5" font-weight="bold" fill="#7ac143" stroke="#7ac143" stroke-width="0.10"><tspan font-size="7" dy="-4.6">4</tspan><tspan dy="4.6">A</tspan><tspan font-size="7" dy="2">2</tspan></text><path d="M236.6,622.7 H238.3 V642.7 H236.6 M238.3,633 H244.5" fill="none" stroke="#f2b01e" stroke-width="1.2"/><text x="248.5" y="637.3" font-size="11.2" font-weight="bold" fill="#f2b01e" stroke="#f2b01e" stroke-width="0.10"><tspan font-size="7" dy="-4.3">2</tspan><tspan dy="4.3">T</tspan><tspan font-size="7" dy="2">1</tspan></text><path d="M236.6,656.4 H238.3 V677.3 H236.6 M238.3,667 H244.5" fill="none" stroke="#f070e8" stroke-width="1.2"/><text x="248.5" y="670" font-size="11" font-weight="bold" fill="#f070e8" stroke="#f070e8" stroke-width="0.10"><tspan font-size="7" dy="-4.3">2</tspan><tspan dy="4.3">E</tspan></text><path d="M222.6,643.4 L305,669.3" fill="none" stroke="#5b9bd5" stroke-width="1.1" stroke-dasharray="3,2"/><path d="M302,666 L308.3,670 L301,671.5 Z" fill="#5b9bd5"/><path d="M222.6,643.4 L441,675.8" fill="none" stroke="#5b9bd5" stroke-width="1.1" stroke-dasharray="3,2"/><path d="M438.5,672.8 L445.5,676.3 L438,678.3 Z" fill="#5b9bd5"/><line x1="298.2" y1="676.4" x2="373.4" y2="676.4" stroke="#7f7f7f" stroke-width="1.3"/><text x="294.2" y="679.9" font-size="10" font-weight="bold" text-anchor="end" fill="#7f7f7f" stroke="#7f7f7f" stroke-width="0.10">1.77</text><line x1="298.2" y1="751.4" x2="373.4" y2="751.4" stroke="#7f7f7f" stroke-width="1.3"/><line x1="298.2" y1="756.8" x2="373.4" y2="756.8" stroke="#7f7f7f" stroke-width="1.3"/><line x1="298.2" y1="763.1" x2="373.4" y2="763.1" stroke="#7f7f7f" stroke-width="1.3"/><line x1="298.2" y1="769.9" x2="373.4" y2="769.9" stroke="#7f7f7f" stroke-width="1.3"/><line x1="335.8" y1="676.4" x2="335.8" y2="752" stroke="#ee1111" stroke-width="1.2"/><path d="M333.6,750.5 L335.8,756.5 L338,750.5 Z" fill="#ee1111"/><text transform="translate(314.6,722.8) scale(0.82,1)" font-size="9.6" stroke="#ee1111" stroke-width="0.3" fill="#ee1111">N<tspan font-size="6.4" dy="2.2">2</tspan></text><text x="333" y="806.8" font-size="10.9" font-weight="bold" text-anchor="middle" fill="#111" stroke="#111" stroke-width="0.10">Fourth-nearest</text><text x="333" y="822.3" font-size="10.9" font-weight="bold" text-anchor="middle" fill="#111" stroke="#111" stroke-width="0.10">neighbor</text><line x1="407.6" y1="683.7" x2="482.9" y2="683.7" stroke="#7f7f7f" stroke-width="1.3"/><text x="405" y="687.2" font-size="10" font-weight="bold" text-anchor="end" fill="#7f7f7f" stroke="#7f7f7f" stroke-width="0.10">1.76</text><line x1="407.6" y1="751.5" x2="482.9" y2="751.5" stroke="#7f7f7f" stroke-width="1.3"/><line x1="407.6" y1="758.0" x2="482.9" y2="758.0" stroke="#7f7f7f" stroke-width="1.3"/><line x1="407.6" y1="763.9" x2="482.9" y2="763.9" stroke="#7f7f7f" stroke-width="1.3"/><line x1="407.6" y1="768.5" x2="482.9" y2="768.5" stroke="#7f7f7f" stroke-width="1.3"/><line x1="445.3" y1="683.7" x2="445.3" y2="754" stroke="#ee1111" stroke-width="1.2"/><path d="M443.1,752.5 L445.3,758.5 L447.5,752.5 Z" fill="#ee1111"/><text transform="translate(457,723.3) scale(0.82,1)" font-size="9.6" stroke="#ee1111" stroke-width="0.3" fill="#ee1111">N<tspan font-size="6.4" dy="2.2">1</tspan></text><text x="446" y="806.5" font-size="10.9" font-weight="bold" text-anchor="middle" fill="#111" stroke="#111" stroke-width="0.10">Second-nearest</text><text x="446" y="822.3" font-size="10.9" font-weight="bold" text-anchor="middle" fill="#111" stroke="#111" stroke-width="0.10">neighbor</text><text x="189" y="814.5" font-size="10.5" font-weight="bold" text-anchor="middle" fill="#111" stroke="#111" stroke-width="0.10">Single ions</text></g>
</svg></body></html>
